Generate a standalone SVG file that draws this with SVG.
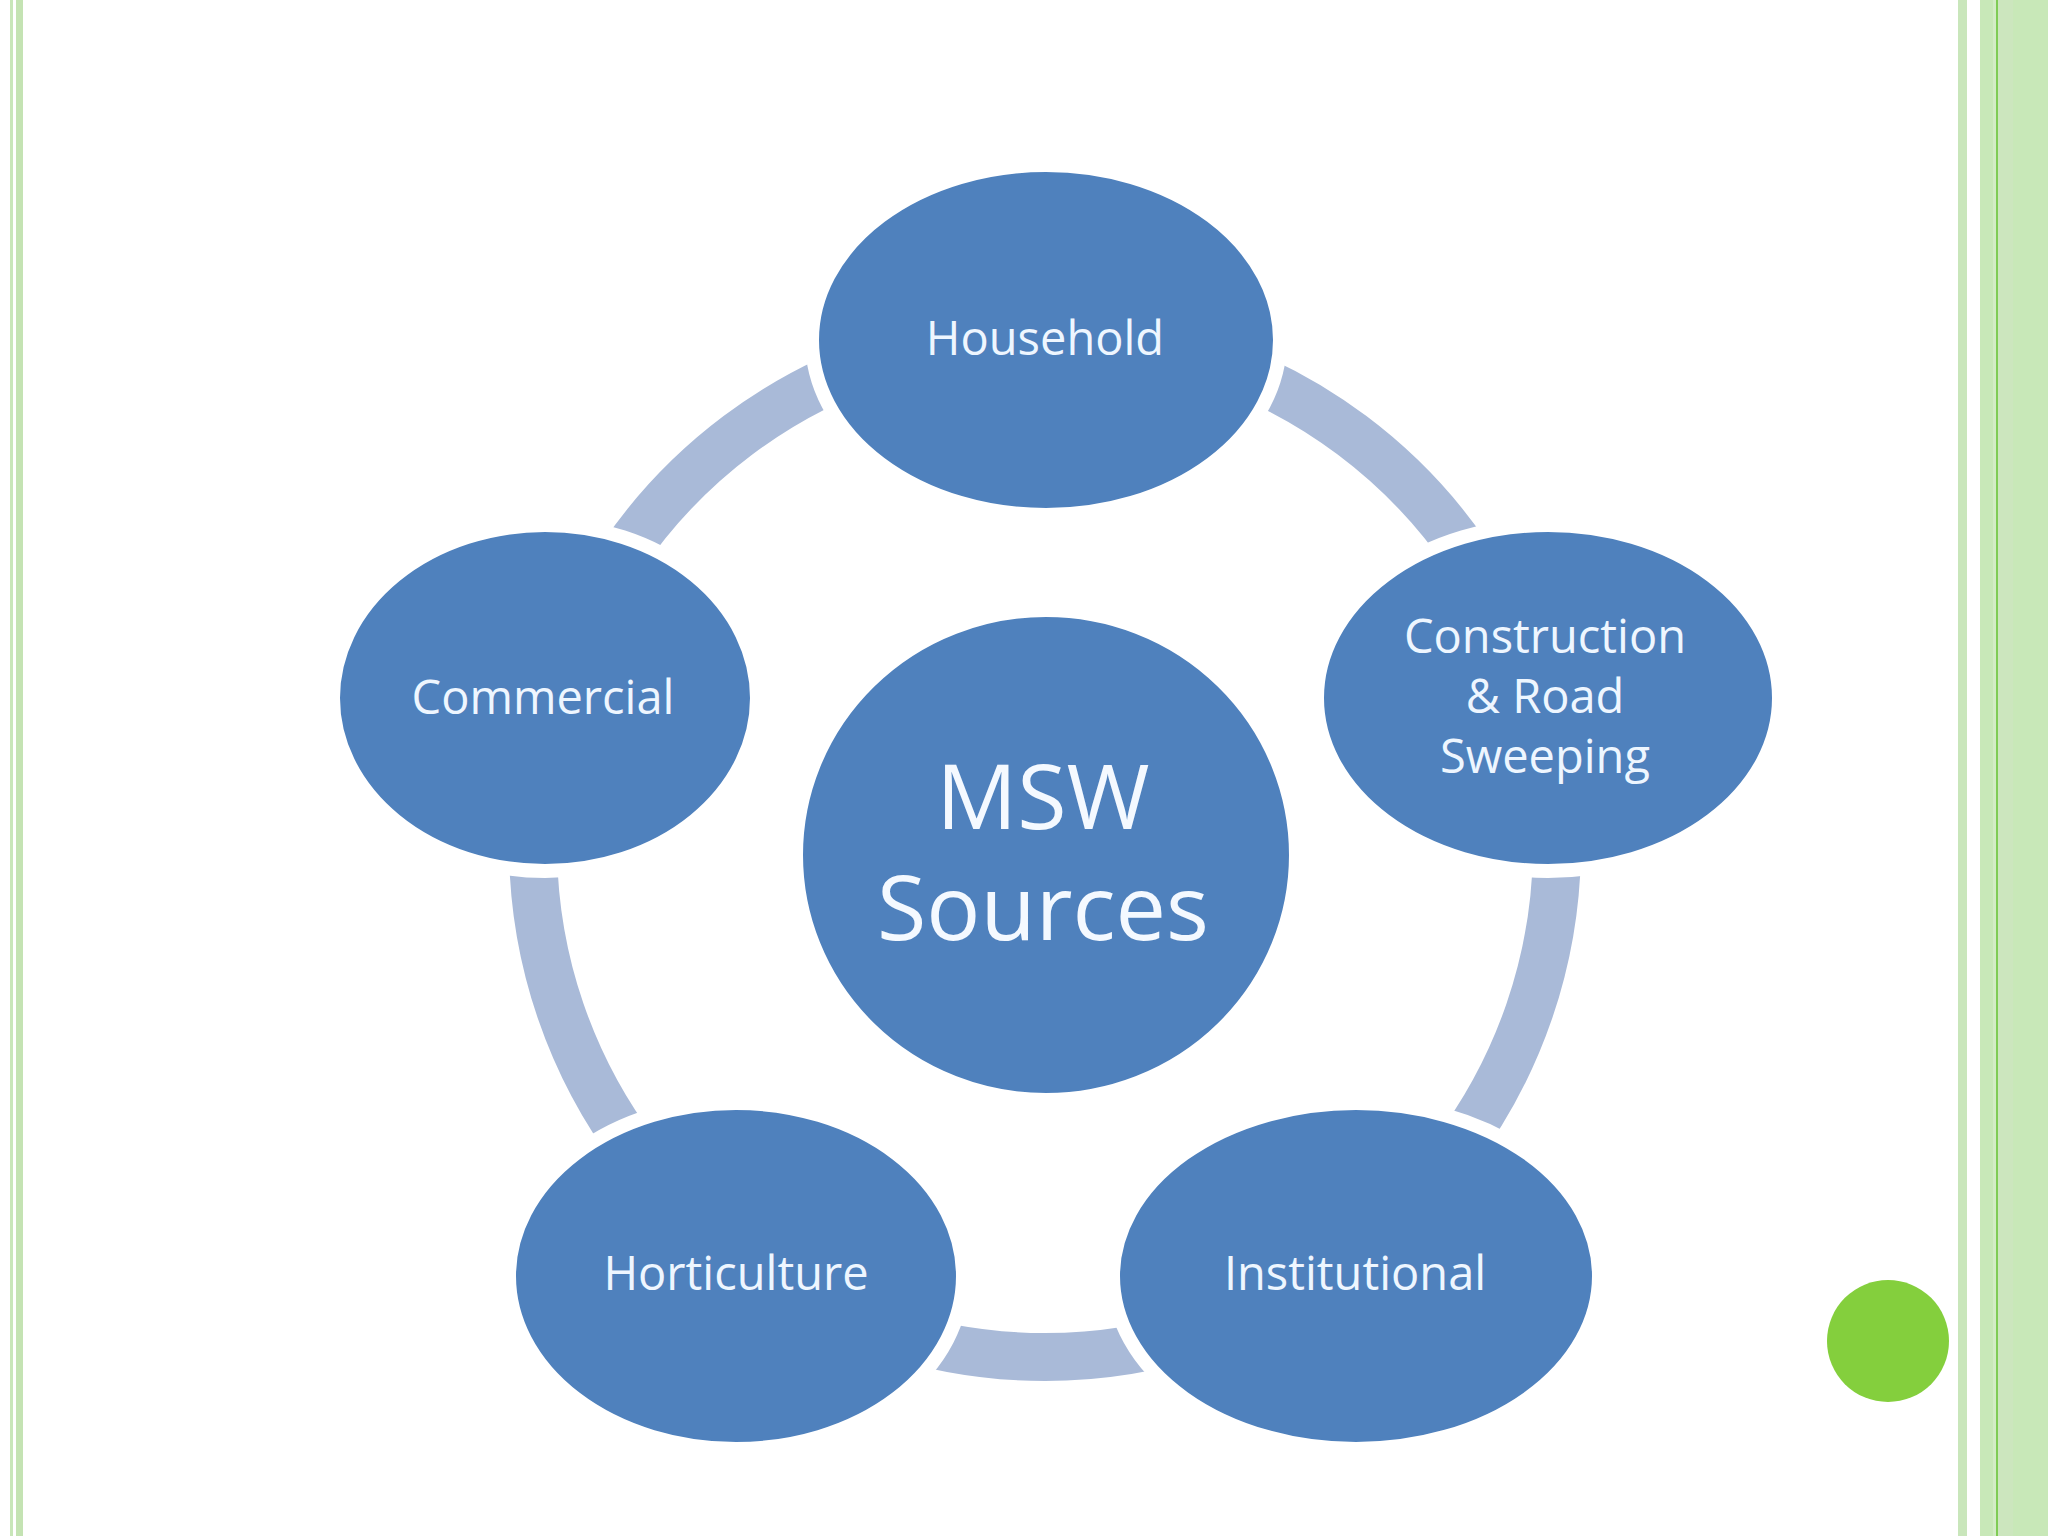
<svg xmlns="http://www.w3.org/2000/svg" width="2048" height="1536" viewBox="0 0 2048 1536">
<style>
.node{fill:#4f81bd;stroke:#ffffff;stroke-width:14}
.lbl{font-family:"Open Sans","Noto Sans",sans-serif;font-size:47px;fill:#eef6ff;text-anchor:middle}
.big{font-family:"Open Sans","Noto Sans",sans-serif;font-size:90px;fill:#f4f9ff;text-anchor:middle}
.ring{fill:none;stroke:#a9bad8;stroke-width:48}
</style>
<rect width="2048" height="1536" fill="#ffffff"/>
<g id="borders">
<rect x="10" y="0" width="3" height="1536" fill="#c8e6b9"/>
<rect x="16" y="0" width="7" height="1536" fill="#c4e3b3"/>
<rect x="1958" y="0" width="9" height="1536" fill="#c9e6bb"/>
<rect x="1980" y="0" width="68" height="1536" fill="#c8e8b8"/>
<rect x="1993" y="0" width="3" height="1536" fill="#d3ecc6"/>
<rect x="1996" y="0" width="2" height="1536" fill="#7fcc55"/>
<rect x="1998" y="0" width="15" height="1536" fill="#cce6be"/>
</g>
<circle id="dot" cx="1888" cy="1341" r="61" fill="#84cf3d"/>
<g id="connectors">
<path class="ring" d="M1045 333 A512 512 0 0 1 1536.4 701.3"/>
<path class="ring" d="M1536.4 701.3 A512 512 0 0 1 1344.5 1260.3"/>
<path class="ring" d="M1344.5 1260.3 A512 512 0 0 1 745.5 1260.3"/>
<path class="ring" d="M745.5 1260.3 A512 512 0 0 1 553.6 701.3"/>
<path class="ring" d="M553.6 701.3 A512 512 0 0 1 1045 333"/>
</g>
<g id="msw">
<ellipse class="node" cx="1046" cy="855" rx="250" ry="245"/>
<text class="big" x="1043" y="829">MSW</text>
<text class="big" x="1043" y="940">Sources</text>
</g>
<g id="household">
<ellipse class="node" cx="1046" cy="340" rx="234" ry="175"/>
<text class="lbl" x="1045" y="355">Household</text>
</g>
<g id="construction">
<ellipse class="node" cx="1548" cy="698" rx="231" ry="173"/>
<text class="lbl" x="1545" y="653">Construction</text>
<text class="lbl" x="1545" y="713">&amp; Road</text>
<text class="lbl" x="1545" y="773">Sweeping</text>
</g>
<g id="institutional">
<ellipse class="node" cx="1356" cy="1276" rx="243" ry="173"/>
<text class="lbl" x="1355" y="1290">Institutional</text>
</g>
<g id="horticulture">
<ellipse class="node" cx="736" cy="1276" rx="227" ry="173"/>
<text class="lbl" x="736" y="1290">Horticulture</text>
</g>
<g id="commercial">
<ellipse class="node" cx="545" cy="698" rx="212" ry="173"/>
<text class="lbl" x="543" y="714">Commercial</text>
</g>
</svg>
